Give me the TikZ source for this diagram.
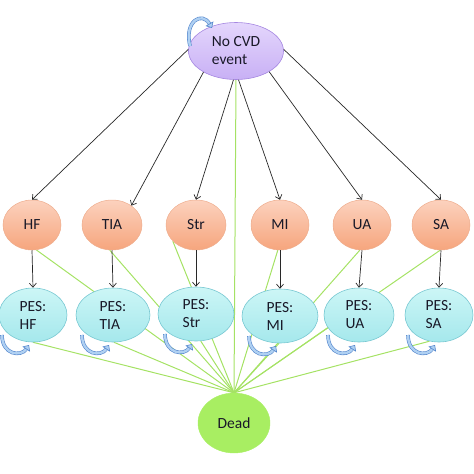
\documentclass[tikz,border=0pt]{standalone}
\usepackage{fontspec}
\setmainfont{Carlito}
\usetikzlibrary{shapes.geometric,arrows.meta,backgrounds}
\definecolor{gline}{RGB}{165,226,100}
\definecolor{deadfill}{RGB}{168,238,98}
\definecolor{loopdark}{RGB}{85,135,205}
\definecolor{looplight}{RGB}{175,208,242}
\definecolor{arrowc}{RGB}{40,40,40}
\begin{document}
\begin{tikzpicture}[x=1pt,y=-1pt,
  base/.style={ellipse, inner sep=0pt, align=left, font=\fontsize{15.5}{18}\selectfont, text={rgb,255:red,25;green,25;blue,40}},
  topnode/.style={base, minimum width=95pt, minimum height=57pt,
     top color={rgb,255:red,228;green,214;blue,252}, bottom color={rgb,255:red,200;green,176;blue,245},
     draw={rgb,255:red,165;green,135;blue,225}, line width=0.6pt},
  disease/.style={base, minimum width=58pt, minimum height=50pt,
     top color={rgb,255:red,252;green,210;blue,190}, bottom color={rgb,255:red,246;green,165;blue,125},
     draw={rgb,255:red,238;green,172;blue,140}, line width=0.5pt},
  pes/.style={base, minimum height=54pt,
     top color={rgb,255:red,204;green,246;blue,246}, bottom color={rgb,255:red,165;green,232;blue,236},
     draw={rgb,255:red,120;green,200;blue,210}, line width=0.6pt},
  deadnode/.style={base, minimum width=72pt, minimum height=60pt, fill=deadfill, draw=deadfill},
  trans/.style={draw=arrowc, line width=0.7pt, -{Straight Barb[length=4pt,width=7pt]}},
  death/.style={draw=gline, line width=1pt},
  selfloop/.style={draw=loopdark, double=looplight, double distance=2.4pt, line width=0.6pt,
     -{Triangle[length=5pt,width=9pt,fill=looplight]}}
]
\useasboundingbox (0,0) rectangle (474,474);

\node[topnode] (top) at (236,51) {No CVD\\event};

\node[disease] (hf)  at (32,225)  {HF};
\node[disease, minimum width=60pt] (tia) at (112,225) {TIA};
\node[disease, minimum width=60pt] (str) at (196,225) {Str};
\node[disease] (mi)  at (280,225) {MI};
\node[disease] (ua)  at (362,225) {UA};
\node[disease] (sa)  at (441,225) {SA};

\node[pes, minimum width=68pt] (phf)  at (33,315)  {PES:\\HF};
\node[pes, minimum width=74pt] (ptia) at (113,315) {PES:\\TIA};
\node[pes, minimum width=76pt] (pstr) at (196,314) {PES:\\Str};
\node[pes, minimum width=76pt] (pmi)  at (280,316) {PES:\\MI};
\node[pes, minimum width=70pt] (pua)  at (359,315) {PES:\\UA};
\node[pes, minimum width=68pt] (psa)  at (439,315) {PES:\\SA};

\node[deadnode] (dead) at (234,423) {Dead};

\begin{scope}[on background layer]
  \draw[death] (top.-90) -- (dead.north);
  \draw[death] (hf.-80) -- (dead.north);
  \draw[death] (tia.-95) -- (dead.north);
  \draw[death] (str.-145) -- (dead.north);
  \draw[death] (mi.-95) -- (dead.north);
  \draw[death] (ua.-95) -- (dead.north);
  \draw[death] (sa.-92) -- (dead.north);
  \draw[death] (phf.-90) -- (dead.north);
  \draw[death] (ptia.-88) -- (dead.north);
  \draw[death] (pstr.-80) -- (dead.north);
  \draw[death] (pmi.-92) -- (dead.north);
  \draw[death] (pua.-158) -- (dead.north);
  \draw[death] (psa.-110) -- (dead.north);
\end{scope}

\draw[trans] (top.178) -- (hf.north);
\draw[trans] (top.-147) -- (tia.45);
\draw[trans] (top.-95) -- (str.north);
\draw[trans] (top.-85) -- (mi.north);
\draw[trans] (top.-32) -- (ua.north);
\draw[trans] (top.2) -- (sa.north);

\draw[trans] (hf.south) -- (phf.north);
\draw[trans] (tia.south) -- (ptia.north);
\draw[trans] (str.south) -- (pstr.north);
\draw[trans] (mi.south) -- (pmi.north);
\draw[trans] (ua.south) -- (pua.north);
\draw[trans] (sa.south) -- (psa.north);

\draw[selfloop] ([shift={(-46,-5)}]top.center) .. controls ([shift={(-52,-30)}]top.center) and ([shift={(-34,-40)}]top.center) .. ([shift={(-24,-23)}]top.center);

\foreach \n in {phf,ptia,pstr,pmi,pua,psa}{
  \draw[selfloop] ([shift={(-31,20)}]\n.center) .. controls ([shift={(-31,40)}]\n.center) and ([shift={(-12,42)}]\n.center) .. ([shift={(-4,30)}]\n.center);
}
\end{tikzpicture}
\end{document}
